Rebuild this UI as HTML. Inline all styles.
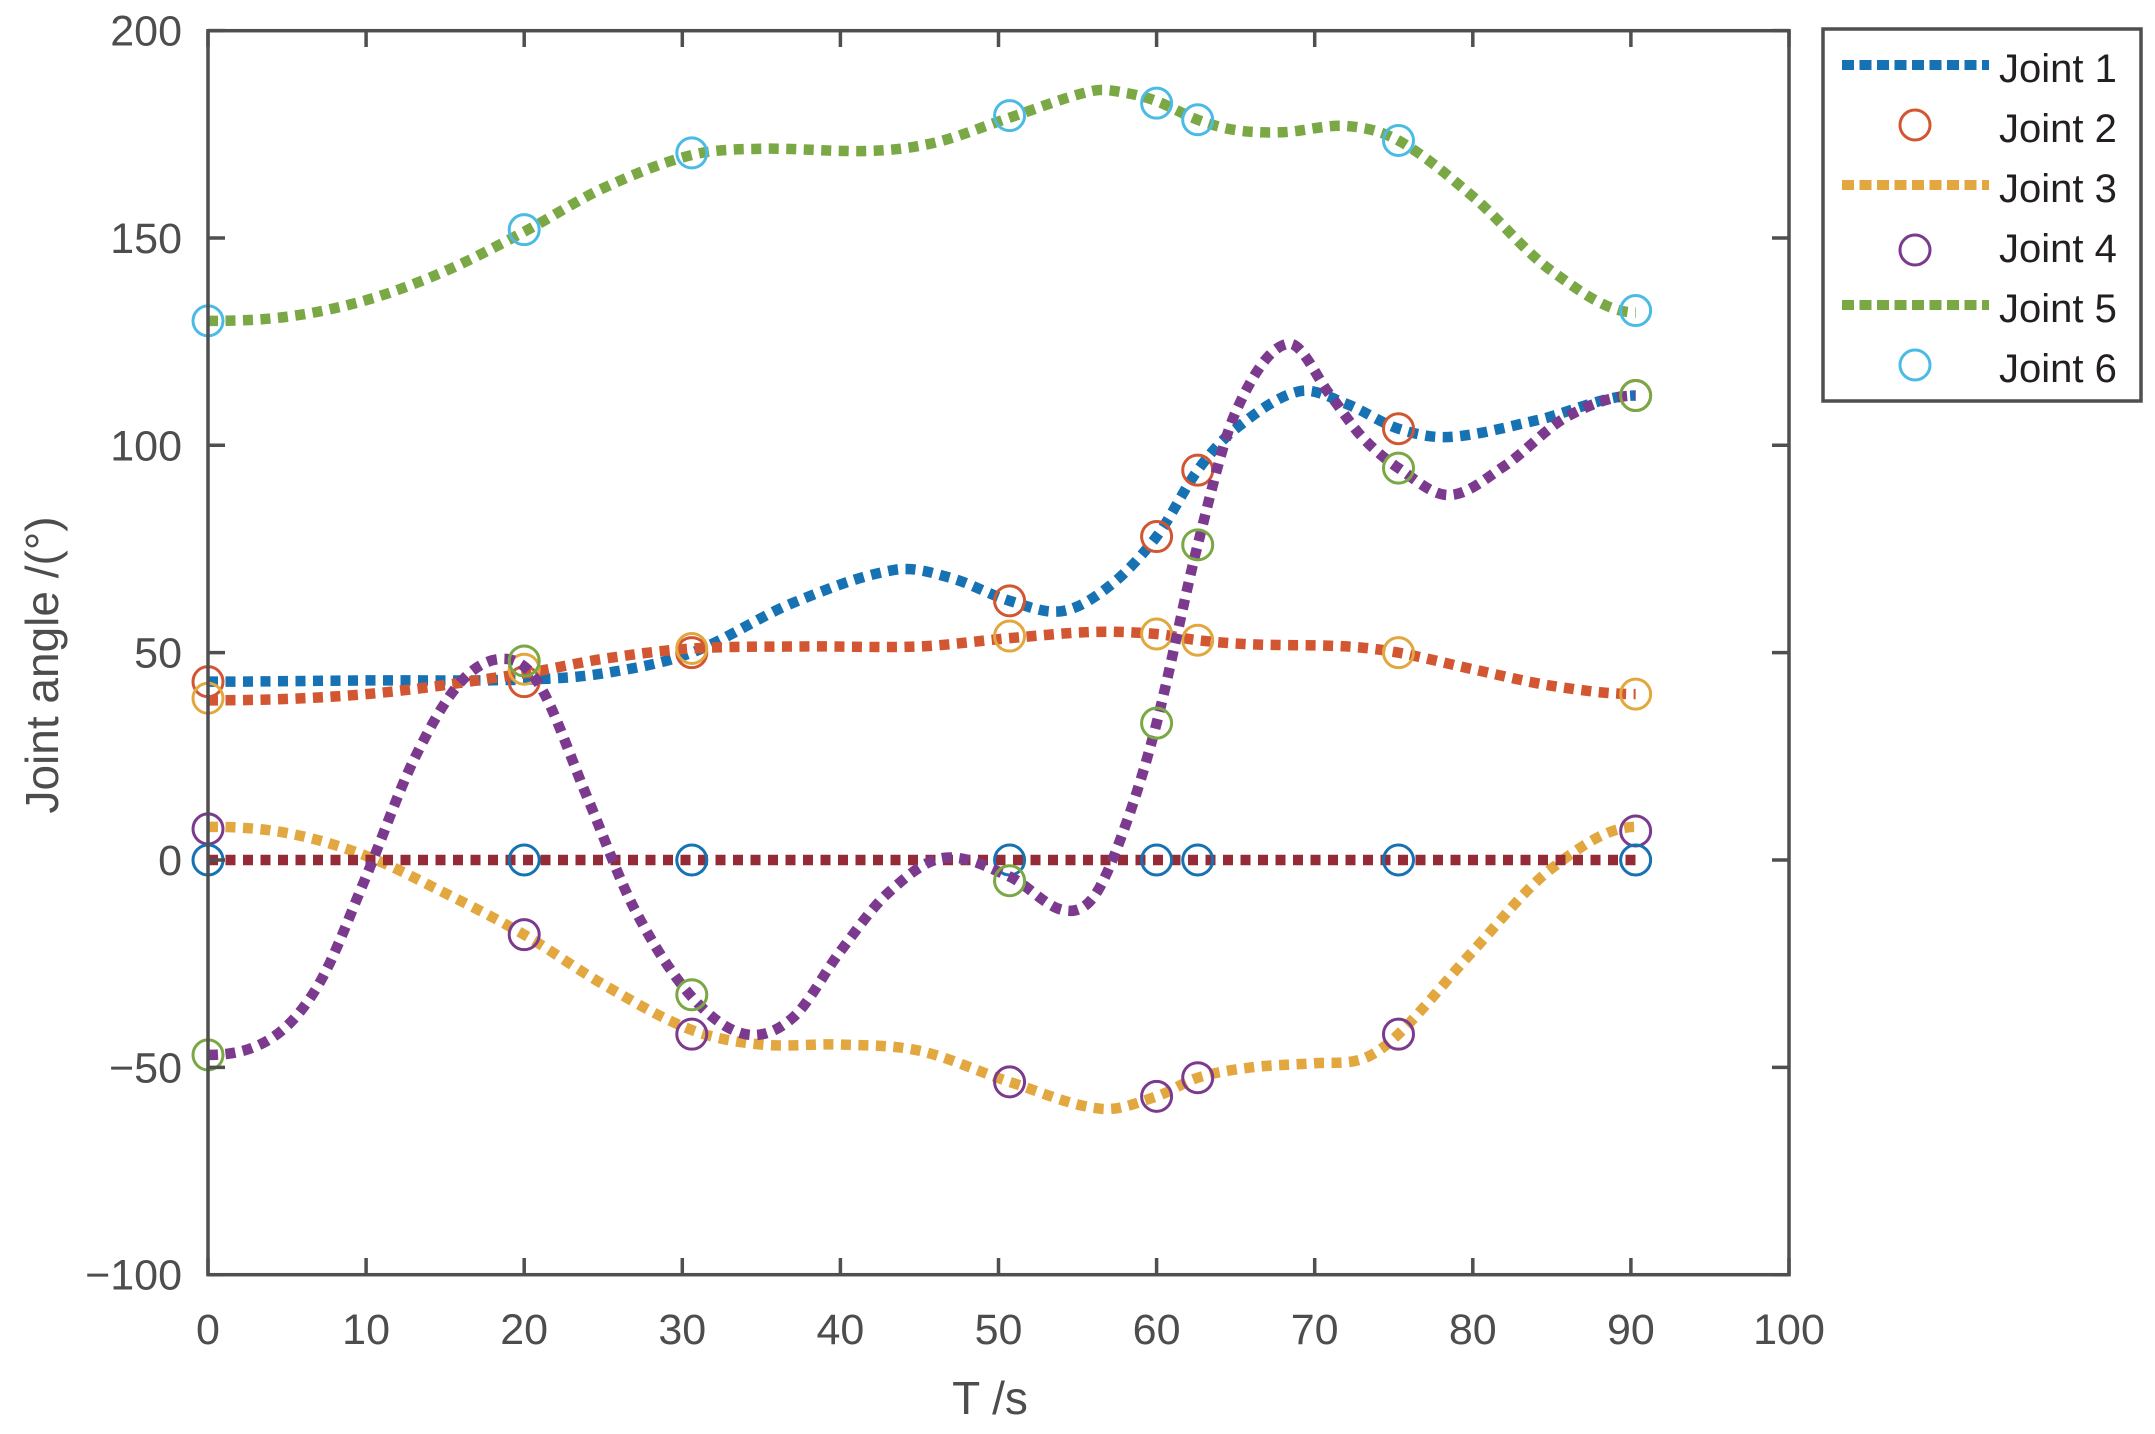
<!DOCTYPE html>
<html><head><meta charset="utf-8"><style>
html,body{margin:0;padding:0;background:#fff;}
svg{display:block;font-family:"Liberation Sans",sans-serif;}
</style></head><body>
<svg id="s" width="2155" height="1434" viewBox="0 0 2155 1434" xmlns="http://www.w3.org/2000/svg">
<rect width="2155" height="1434" fill="#fff"/>
<g id="plot"></g>
<g stroke="#4f4f4f" stroke-width="3.5" fill="none" id="axes">
<rect x="208" y="30.7" width="1581" height="1244"/>
</g>
<g id="ticks" fill="#4d4d4d" font-size="43"></g>
<text x="990" y="1414" font-size="46" fill="#4d4d4d" text-anchor="middle">T /s</text>
<text transform="translate(58,665) rotate(-90)" font-size="46" fill="#4d4d4d" text-anchor="middle">Joint angle /(°)</text>
<g>
<rect x="1823" y="29" width="318" height="372" fill="#fff" stroke="#4f4f4f" stroke-width="3.5"/>
<g stroke-width="10" stroke-dasharray="12 5.5" fill="none">
<line x1="1842" y1="65" x2="1989" y2="65" stroke="#1672b3"/>
<line x1="1842" y1="185" x2="1989" y2="185" stroke="#e2a73f"/>
<line x1="1842" y1="305" x2="1989" y2="305" stroke="#79a845"/>
</g>
<g fill="none" stroke-width="3">
<circle cx="1915" cy="125" r="15" stroke="#d25632"/>
<circle cx="1915" cy="250" r="15" stroke="#7b3a8e"/>
<circle cx="1915" cy="365" r="15" stroke="#4bbbe6"/>
</g>
<g font-size="40" fill="#231f20">
<text x="1999" y="82">Joint 1</text>
<text x="1999" y="142">Joint 2</text>
<text x="1999" y="202">Joint 3</text>
<text x="1999" y="262">Joint 4</text>
<text x="1999" y="322">Joint 5</text>
<text x="1999" y="382">Joint 6</text>
</g>
</g>
</svg>
<script>
const X=t=>208+15.81*t, Y=v=>860-4.147*v;
const NS="http://www.w3.org/2000/svg";
const plot=document.getElementById('plot');
const C={blue:"#1672b3",orange:"#d25632",yellow:"#e2a73f",purple:"#7b3a8e",green:"#79a845",cyan:"#4bbbe6",red:"#952b37"};
const T=[0,20,30.6,50.7,60,62.6,75.3,90.3];
function path(pts){
 const p=pts.map(a=>[X(a[0]),Y(a[1])]);let d="M"+p[0][0]+","+p[0][1];
 const n=p.length,m=[];
 for(let i=0;i<n;i++){
  if(i==0||i==n-1){m.push(0);continue;}
  m.push((p[i+1][1]-p[i-1][1])/(p[i+1][0]-p[i-1][0]));
 }
 for(let i=0;i<n-1;i++){
  const dx=(p[i+1][0]-p[i][0])/3;
  d+=" C"+(p[i][0]+dx)+","+(p[i][1]+m[i]*dx)+" "+(p[i+1][0]-dx)+","+(p[i+1][1]-m[i+1]*dx)+" "+p[i+1][0]+","+p[i+1][1];
 }
 return d;
}
function line(pts,col){
 const e=document.createElementNS(NS,'path');e.setAttribute('d',path(pts));
 e.setAttribute('fill','none');e.setAttribute('stroke',col);e.setAttribute('stroke-width','10.5');
 e.setAttribute('stroke-dasharray','10 7.5');plot.appendChild(e);
}
function circ(vals,col){
 vals.forEach((v,i)=>{const e=document.createElementNS(NS,'circle');
 e.setAttribute('cx',X(T[i]));e.setAttribute('cy',Y(v));e.setAttribute('r',15);
 e.setAttribute('fill','none');e.setAttribute('stroke',col);e.setAttribute('stroke-width','3');plot.appendChild(e);});
}
line([[0,43],[10,43.3],[20,43.5],[25,45],[30.6,50],[37,62],[43.5,70],[47,68],[50.7,62.5],[54,60],[57,66],[60,78],[62.6,94],[65,104],[69,113],[72,110],[75.3,104],[78.5,102],[84,106],[90.3,112]],C.blue);
circ([43,43,50,62.5,78,94,104,112],C.orange);
line([[0,8],[5,6.5],[10,1],[15,-8],[20,-18],[25,-30],[30.6,-41],[35,-44.5],[40,-44.5],[45,-46],[50.7,-53.5],[56.5,-60],[60,-57],[62.6,-52.5],[66,-50],[70,-49],[73,-48],[75.3,-42],[80,-22],[85,-2],[90.3,8]],C.yellow);
circ([7.5,-18,-42,-53.5,-57,-52.5,-42,7],C.purple);
line([[0,130],[5,131],[10,135],[15,142],[20,151.5],[25,162],[30.6,170],[35,171.5],[42,171],[46,173],[50.7,179],[56,185.5],[58,185],[60,183],[62.6,178.5],[65,176],[68,175.5],[72,177],[75.3,173.5],[80,160],[85,142],[90.3,132]],C.green);
circ([130,152,170.5,179.5,182.5,178.5,173.5,132.5],C.cyan);
line([[0,0],[90.3,0]],C.red);
circ([0,0,0,0,0,0,0,0],C.blue);
line([[0,38.5],[10,40],[20,45],[25,48.5],[30.6,51],[38,51.5],[45,51.5],[50.7,53.5],[56,55],[60,54.5],[62.6,53],[66,52],[72,51.5],[75.3,50],[80,46],[85,42],[90.3,40]],C.orange);
circ([39,46,51,54,54.5,53,50,40],C.yellow);
line([[0,-47],[4,-43],[7,-30],[10,-4],[13,24],[16,43],[18.8,48.5],[21,42],[24,15],[27,-12],[30.6,-33],[34,-42],[37,-38],[40,-22],[43,-8],[46.5,0.5],[50.7,-4],[54,-12],[56,-9],[58,8],[60,33],[62.6,76],[65,108],[68.3,124.5],[71,112],[73,102],[75.3,94.5],[78.5,88],[82,95],[86,107],[90.3,112]],C.purple);
circ([-47,48,-32.5,-5,33,76,94.5,112],C.green);
const tk=document.getElementById('ticks'), ax=document.getElementById('axes');
function L(x1,y1,x2,y2){const e=document.createElementNS(NS,'line');e.setAttribute('x1',x1);e.setAttribute('y1',y1);e.setAttribute('x2',x2);e.setAttribute('y2',y2);ax.appendChild(e);}
function Tx(x,y,s,a){const e=document.createElementNS(NS,'text');e.setAttribute('x',x);e.setAttribute('y',y);e.setAttribute('text-anchor',a);e.textContent=s;tk.appendChild(e);}
for(let t=0;t<=100;t+=10){const x=X(t);L(x,1274.7,x,1258);L(x,30.7,x,47);Tx(x,1344,String(t),'middle');}
for(let v=-100;v<=200;v+=50){const y=Y(v);L(208,y,225,y);L(1789,y,1772,y);Tx(182,y+15,(v<0?'\u2212':'')+Math.abs(v),'end');}
</script>
</body></html>
